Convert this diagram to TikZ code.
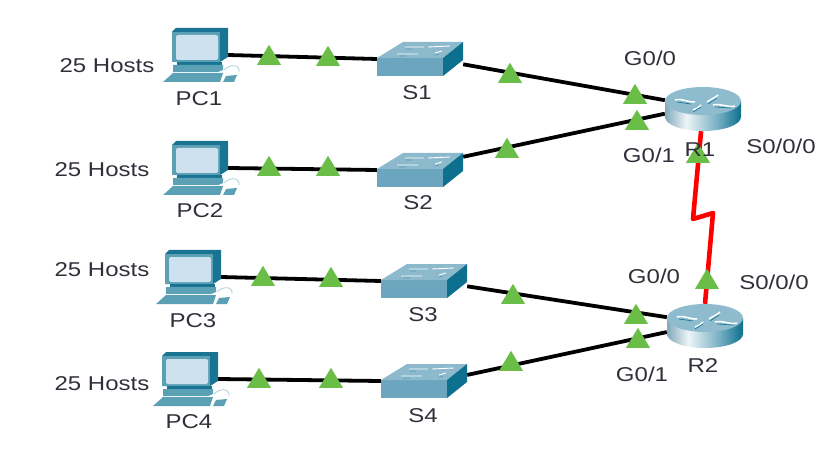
\documentclass[tikz,border=0pt]{standalone}
\usepackage{fontspec}
\setmainfont[FakeStretch=1.2]{Liberation Sans}
\usetikzlibrary{shapes.geometric}

\definecolor{upgreen}{RGB}{106,190,72}
\definecolor{labelgray}{RGB}{48,48,58}
\definecolor{pcframe}{RGB}{92,160,182}
\definecolor{pcscreen}{RGB}{205,226,238}
\definecolor{pcside}{RGB}{24,116,146}
\definecolor{swtop}{RGB}{140,186,204}
\definecolor{swfront}{RGB}{108,166,190}
\definecolor{swside}{RGB}{12,112,142}
\definecolor{rttop}{RGB}{142,188,206}

\pgfdeclarehorizontalshading{routerside}{100bp}{
  color(0bp)=(rttop); color(25bp)=(rttop!90!black); color(39bp)=(white!85!rttop);
  color(60bp)=(rttop!80!swside); color(75bp)=(swside); color(100bp)=(swside)}

\tikzset{
  pcicon/.pic={
    \fill[pcside] (-28,-23) -- (-24,-27) -- (28,-27) -- (28,2) -- (20,7) -- (-28,7) -- cycle;
    \fill[pcframe] (-28,-23) -- (20,-23) -- (20,7) -- (-28,7) -- cycle;
    \fill[pcscreen, rounded corners=2pt] (-24,-20) rectangle (18,5);
    \fill[pcside] (-23,7) rectangle (22,10);
    \fill[pcframe] (-27,10) -- (23,10) -- (23,15) -- (18,17) -- (-27,17) -- cycle;
    \fill[pcframe] (-27,18) -- (23,18) -- (20,27) -- (-37,27) -- cycle;
    \fill[pcframe] (23,27) -- (26,21) -- (37,20) -- (34,27) -- cycle;
    \draw[pcframe!50, line width=.8pt] (24,15) .. controls (30,9) and (40,9) .. (39,17);
  },
  switchicon/.pic={
    \fill[swfront] (-43,-1) rectangle (23,17);
    \fill[swtop] (-43,-1) -- (-17,-17) -- (43,-17) -- (23,-1) -- cycle;
    \fill[swside] (23,-1) -- (43,-17) -- (43,1) -- (23,17) -- cycle;
    \draw[white, line width=.9pt] (-15,-12) -- (4,-12) (8,-12) -- (30,-13)
      (-23,-5) -- (-2,-5) (15,-6) -- (22,-8);
    \draw[swside!70, line width=.6pt] (-14,-10) -- (-8,-10) (-21,-3) -- (-14,-3) (15,-4) -- (19,-5);
  },
  routericon/.pic={
    \shade[shading=routerside] (-38,-8) -- (-38,8) arc[start angle=180, end angle=360, x radius=38, y radius=-14]
      -- (38,-8) -- cycle;
    \fill[rttop] (0,-8) ellipse[x radius=38, y radius=14];
    \draw[white, line width=1.5pt] (-28,-9) .. controls (-20,-11) and (-14,-6) .. (-8,-7)
      (4,-7) .. controls (8,-10) and (12,-11) .. (15,-14)
      (10,-4) .. controls (18,-6) and (24,-1) .. (32,-3)
      (-10,1) .. controls (-6,-1) and (-4,-1) .. (-2,-4);
    \draw[swside, line width=.6pt] (-26,-7) -- (-12,-5) (5,-5) -- (14,-11) (12,-2) -- (28,-1) (-10,3) -- (-2,-2);
  }
}

\begin{document}
\begin{tikzpicture}[x=1pt,y=-1pt,
                    pcbox/.style={minimum width=56pt,minimum height=54pt,inner sep=0pt},
                    swbox/.style={minimum width=86pt,minimum height=34pt,inner sep=0pt},
                    rtbox/.style={minimum width=76pt,minimum height=44pt,inner sep=0pt},
                    wire/.style={black,line width=3.8pt},
                    serial/.style={red,line width=4.6pt,line join=round},
                    linkup/.style={isosceles triangle,isosceles triangle stretches,shape border rotate=90,
                                   minimum width=24pt,minimum height=20pt,inner sep=0pt,fill=upgreen,yshift=-1pt},
                    tag/.style={text=labelgray,font=\fontsize{20}{20}\selectfont,inner sep=0pt}]
  \useasboundingbox (0,0) rectangle (838,449);

  \node[pcbox] (pc1) at (200,55)  {};
  \node[pcbox] (pc2) at (200,168) {};
  \node[pcbox] (pc3) at (193,277) {};
  \node[pcbox] (pc4) at (190,379) {};
  \node[swbox] (s1) at (420,59)  {};
  \node[swbox] (s2) at (420,170) {};
  \node[swbox] (s3) at (424,281) {};
  \node[swbox] (s4) at (424,381) {};
  \node[rtbox] (r1) at (703,109) {};
  \node[rtbox] (r2) at (705,326) {};
  \coordinate (bolt1) at (693,219);
  \coordinate (bolt2) at (713,213);

  \path[wire] (pc1.east) edge (s1.west)
              (pc2.east) edge (s2.west)
              (pc3.east) edge (s3.west)
              (pc4.east) edge (s4.west)
              (s1.-7) edge (r1.167)
              (s2.17) edge (r1.187)
              (s3.-7) edge (r2.167)
              (s4.8)  edge (r2.189);
  \draw[serial] (r1.265) -- (bolt1) -- (bolt2) -- (r2.north);

  \foreach \name in {pc1,pc2,pc3,pc4}
    \pic at (\name) {pcicon};
  \foreach \name in {s1,s2,s3,s4}
    \pic at (\name) {switchicon};
  \foreach \name in {r1,r2}
    \pic at (\name) {routericon};

  \foreach \tx/\ty [count=\i] in {269/57,328/58,269/168,328/168,263/278,331/279,259/380,331/380,
                                  510/75,507/150,513/296,511/363,635/96,637/122,636/316,638/340,698/155,707/281}
    \node[linkup] (up\i) at (\tx,\ty) {};

  \foreach \tx/\ty [count=\i] in {107/66,102/170,102/270,102/384}
    \node[tag] (hosts\i) at (\tx,\ty) {25 Hosts};

  \node[tag] (pc1name) at (199,99)  {PC1};
  \node[tag] (pc2name) at (200,211) {PC2};
  \node[tag] (pc3name) at (193,321) {PC3};
  \node[tag] (pc4name) at (189,422) {PC4};
  \node[tag] (s1name) at (417,93)  {S1};
  \node[tag] (s2name) at (418,203) {S2};
  \node[tag] (s3name) at (423,315) {S3};
  \node[tag] (s4name) at (423,416) {S4};
  \node[tag] (r1name) at (700,150) {R1};
  \node[tag] (r2name) at (703,366) {R2};
  \node[tag] (r1g0) at (650,58)  {G0/0};
  \node[tag] (r1g1) at (649,155) {G0/1};
  \node[tag] (r1s0) at (781,146) {S0/0/0};
  \node[tag] (r2g0) at (654,276) {G0/0};
  \node[tag] (r2g1) at (642,374) {G0/1};
  \node[tag] (r2s0) at (774,282) {S0/0/0};
\end{tikzpicture}
\end{document}
